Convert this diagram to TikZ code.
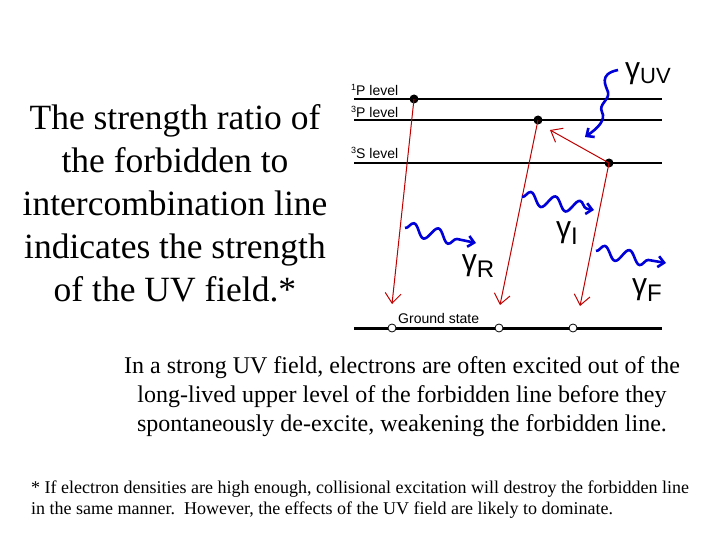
\documentclass[tikz,border=0pt]{standalone}
\usepackage{fontspec}
\setmainfont{Liberation Serif}
\newfontfamily\arial{Liberation Sans}
\usetikzlibrary{decorations.pathmorphing,arrows.meta}
\begin{document}
\begin{tikzpicture}[x=1pt,y=-1pt,
  lvl/.style={line width=2.2pt},
  fdot/.style={circle,fill=black,inner sep=0pt,minimum size=9pt},
  odot/.style={circle,draw=black,fill=white,line width=0.8pt,inner sep=0pt,minimum size=8pt},
  tr/.style={red!75!black,line width=1pt,-{Straight Barb[length=10pt,width=16pt]}},
  wav/.style={blue!85!black,line width=2.6pt,decorate,decoration={snake,amplitude=6.5pt,segment length=25pt,post length=7pt},-{Straight Barb[length=6pt,width=11pt]}},
  lbl/.style={font=\arial\fontsize{14}{16}\selectfont,anchor=west,inner sep=0pt},
  gam/.style={font=\arial\fontsize{30}{32}\selectfont,inner sep=0pt}]
\useasboundingbox (0,0) rectangle (720,540);
\draw[lvl] (354,99) -- (662,99);
\draw[lvl] (354,120) -- (662,120);
\draw[lvl] (354,163) -- (662,163);
\draw[line width=3pt] (354,328) -- (662,328);
\node[lbl] at (351,90) {\raisebox{5pt}{\fontsize{9}{9}\selectfont 1}P level};
\node[lbl] at (351,112) {\raisebox{5pt}{\fontsize{9}{9}\selectfont 3}P level};
\node[lbl] at (351,153) {\raisebox{5pt}{\fontsize{9}{9}\selectfont 3}S level};
\node[lbl] at (398,318) {Ground state};
\node[fdot] (p1) at (414,99) {};
\node[fdot] (p3) at (538,120) {};
\node[fdot] (s3) at (609,163) {};
\node[odot] (g1) at (392,328) {};
\node[odot] (g2) at (499,328) {};
\node[odot] (g3) at (573,328) {};
\coordinate (e1) at (392,304);
\coordinate (e2) at (500,305);
\coordinate (e3) at (580,306);
\coordinate (e4) at (550,130);
\draw[tr] (p1.center) -- (e1);
\draw[tr] (p3.center) -- (e2);
\draw[tr] (s3.center) -- (e3);
\draw[tr] (s3.center) -- (e4);
\coordinate (r1) at (405,228); \coordinate (r2) at (476,243);
\coordinate (i1) at (522,197); \coordinate (i2) at (594,210);
\coordinate (f1) at (596,251); \coordinate (f2) at (666,263);
\draw[wav] (r1) -- (r2);
\draw[wav] (i1) -- (i2);
\draw[wav] (f1) -- (f2);
\coordinate (u1) at (618,70); \coordinate (u2) at (585,137);
\draw[blue!85!black,line width=2.6pt,-{Straight Barb[length=6pt,width=11pt]}] (u1) .. controls (598,74) and (606,86) .. (608,92) .. controls (610,100) and (598,104) .. (602,112) .. controls (606,120) and (598,128) .. (u2);
\node[gam] (gu) at (648,74) {γ\raisebox{-5pt}{\fontsize{22}{22}\selectfont UV}};
\node[gam] (gr) at (478,266) {γ\raisebox{-7pt}{\fontsize{24}{24}\selectfont R}};
\node[gam] (gi) at (567,233) {γ\raisebox{-7pt}{\fontsize{24}{24}\selectfont I}};
\node[gam] (gf) at (647,290) {γ\raisebox{-7pt}{\fontsize{24}{24}\selectfont F}};
\node[font=\fontsize{35.5}{43}\selectfont,align=center] (t1) at (175,203) {The strength ratio of\\the forbidden to\\intercombination line\\indicates the strength\\of the UV field.*};
\node[font=\fontsize{24}{29}\selectfont,align=center] (t2) at (402,397) {In a strong UV field, electrons are often excited out of the\\long-lived upper level of the forbidden line before they\\spontaneously de-excite, weakening the forbidden line.};
\node[font=\fontsize{18}{21}\selectfont,align=left,anchor=west,inner sep=0pt] (t3) at (31,500) {* If electron densities are high enough, collisional excitation will destroy the forbidden line\\in the same manner.\ \ However, the effects of the UV field are likely to dominate.};
\end{tikzpicture}
\end{document}
